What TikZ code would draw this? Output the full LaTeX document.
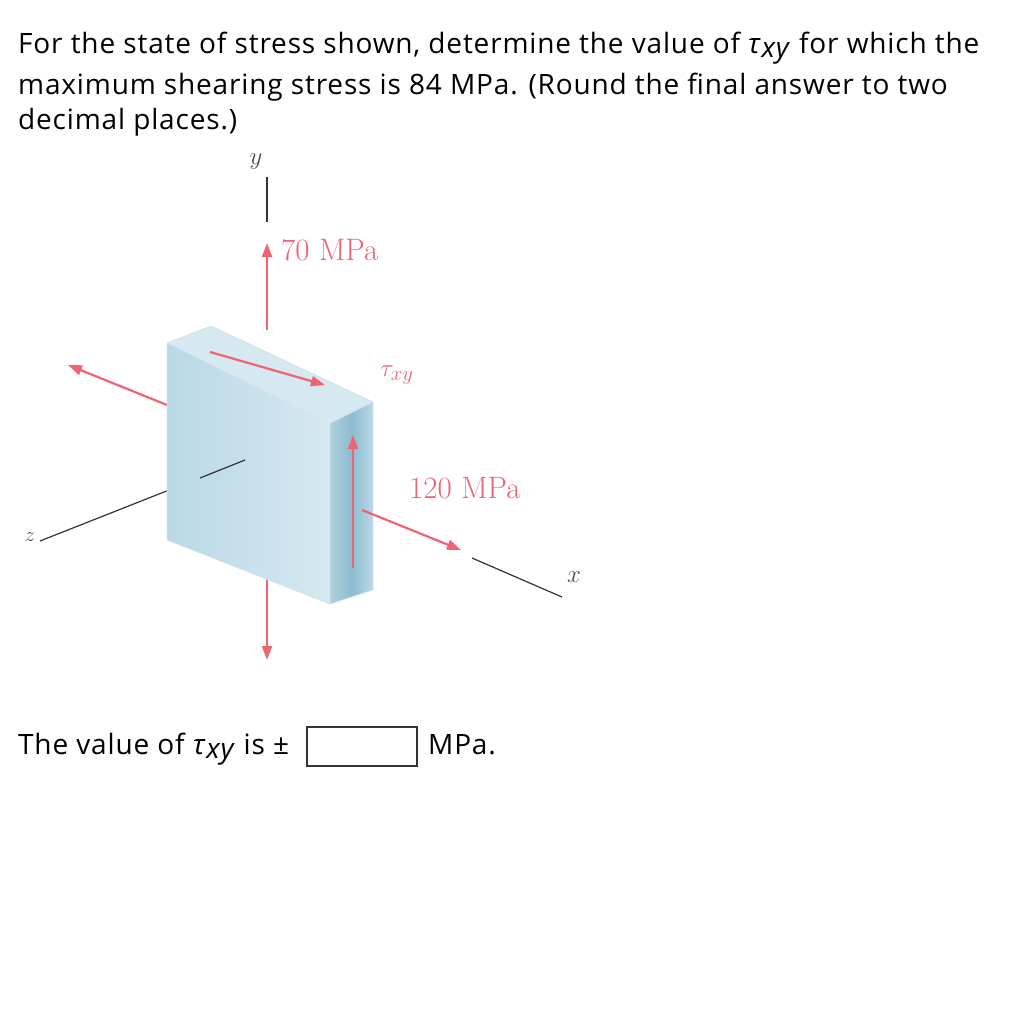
\documentclass[tikz,border=0pt]{standalone}
\usepackage{fontspec}
\setsansfont{Open Sans}[LetterSpace=3]
\usetikzlibrary{arrows.meta}
\definecolor{fred}{HTML}{EE6470}
\definecolor{fa}{HTML}{B9D8E6}
\definecolor{fb}{HTML}{D6E9F1}
\definecolor{fc}{HTML}{8DBCD0}
\newcommand{\tauxy}{\textit{τ}\raisebox{-0.3ex}{\textit{xy}}}
\tikzset{force/.style={fred,line width=2.2pt,-{Triangle[length=14pt,width=10pt]}},
 axis/.style={black!80,line width=1.2pt},
 qtext/.style={anchor=base west,font=\sffamily\fontsize{28}{32}\selectfont,inner sep=0},
 lbl/.style={fred,font=\fontsize{31}{32}\selectfont,inner sep=0}}
\begin{document}
\begin{tikzpicture}[x=1pt,y=-1pt]
\useasboundingbox (0,0) rectangle (1010,1012);
\node[qtext] (q1) at (18,53) {For the state of stress shown, determine the value of \tauxy{} for which the};
\node[qtext] (q2) at (18,94) {maximum shearing stress is 84 MPa. (Round the final answer to two};
\node[qtext] (q3) at (18,129) {decimal places.)};
% axes behind
\draw[axis] (267,177) -- (267,222);
\node[font=\fontsize{24}{24}\selectfont,black!70] (ylab) at (256,162) {$y$};
\draw[axis] (245,460) -- (40,541);
\node[font=\fontsize{22}{24}\selectfont,black!70] (zlab) at (30,537) {$z$};
% arrows behind block
\draw[force] (167,405) -- (68,365);
\draw[force] (267,330) -- (267,243);
\draw[force] (267,527) -- (267,660);
% block
\coordinate (A) at (167,343); \coordinate (B) at (330,423);
\coordinate (C) at (330,604); \coordinate (D) at (167,540);
\coordinate (Ab) at (211,326); \coordinate (Bb) at (373,402);
\coordinate (Cb) at (373,590);
\fill[fb] (A) -- (Ab) -- (Bb) -- (B) -- cycle;
\shade[left color=fc!70,right color=fa, middle color=fc] (B) -- (Bb) -- (Cb) -- (C) -- cycle;
\shade[shading angle=45,left color=fa,right color=fb] (A) -- (B) -- (C) -- (D) -- cycle;
\draw[white!60!fc,line width=0.8pt] (A) -- (Ab) -- (Bb) -- (Cb) -- (C) -- (D) -- cycle (A) -- (B) -- (C) (B) -- (Bb);
\draw[axis] (245,460) -- (200,478);
% forces on block
\draw[force] (210,352) -- (325,385);
\draw[force] (353,568) -- (353,435);
\draw[force] (362,510) -- (461,550);
\draw[axis] (472,558) -- (562,597);
\node[font=\fontsize{24}{24}\selectfont,black!70] (xlab) at (574,577) {$x$};
\node[lbl,anchor=west] (l70) at (281,250) {70 MPa};
\node[lbl] (ltau) at (397,375) {$\tau_{xy}$};
\node[lbl,anchor=west] (l120) at (409,488) {120 MPa};
% answer line
\node[qtext] (ans) at (18,754) {The value of \tauxy{} is ±};
\node[draw=black!80,line width=1.2pt,minimum width=110pt,minimum height=39pt,inner sep=0] (box) at (362,746.5) {};
\node[qtext] (mpa) at (428,754) {MPa.};
\end{tikzpicture}
\end{document}
